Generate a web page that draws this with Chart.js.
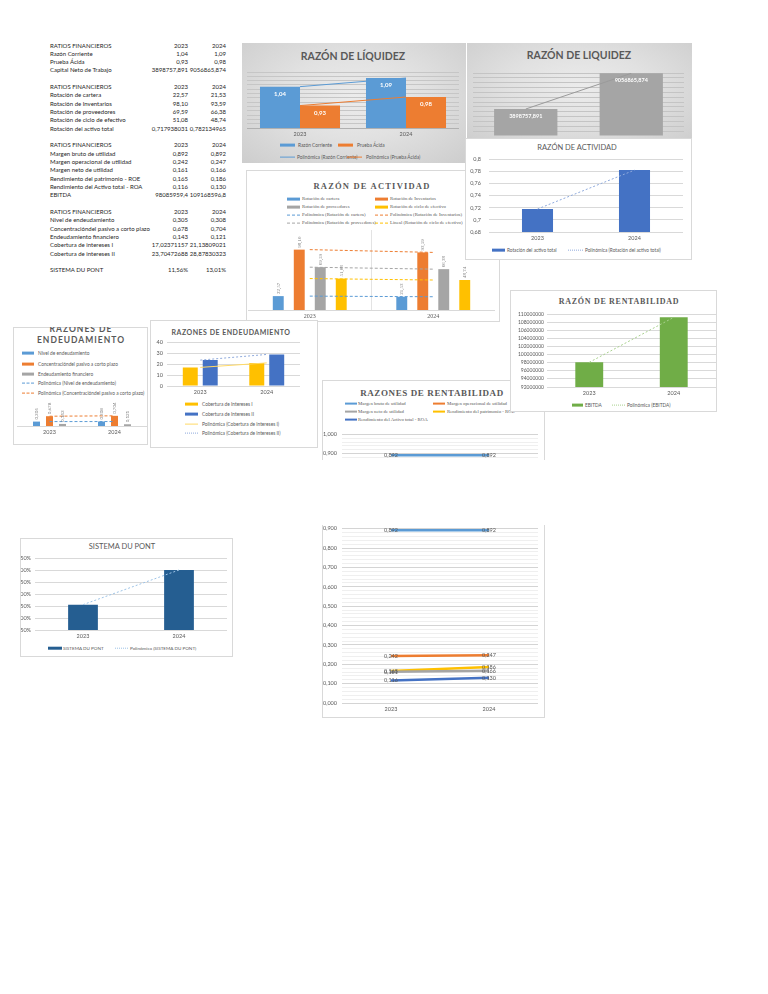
<!DOCTYPE html>
<html lang="es">
<head>
<meta charset="UTF-8">
<meta name="viewport" content="width=device-width, initial-scale=1.0">
<title>Ratios financieros 2023 - 2024</title>
<script src="https://cdn.jsdelivr.net/npm/chart.js"></script>
<style>
  html, body { margin: 0; padding: 0; background: #fff; }
  #page { position: relative; width: 768px; height: 994px; overflow: hidden; font-family: Lato, "Open Sans", sans-serif; color: #595959; }
  .box { position: absolute; background: #fff; overflow: hidden; box-shadow: inset 0 0 0 1px #d9d9d9; }
  .grey { background: radial-gradient(ellipse at 50% 45%, #ececec 0%, #e1e1e1 45%, #cdcdcd 100%); box-shadow: none; }
  .ttl { position: absolute; white-space: nowrap; transform: translate(-50%, -50%); line-height: 1; }
  .lg { position: absolute; white-space: nowrap; display: flex; align-items: center; transform: translateY(-50%); line-height: 1; }
  .lg i { display: inline-block; flex: none; }
  canvas { position: absolute; }
  .row { position: absolute; height: 8.32px; line-height: 8.32px; font-size: 6px; color: #262626; white-space: nowrap; }
</style>
</head>
<body>
<div id="page"></div>
<script>
// ---- data read from the sheet ----
const years = ['2023', '2024'];
const razonCorriente = [1.04, 1.09];
const pruebaAcida = [0.93, 0.98];
const capitalNeto = [3898757.891, 9056865.874];
const rotCartera = [22.57, 21.53];
const rotInventarios = [98.10, 93.59];
const rotProveedores = [69.59, 66.38];
const rotCiclo = [51.08, 48.74];
const rotActivo = [0.717938031, 0.782134965];
const margenBruto = [0.892, 0.892];
const margenOperacional = [0.242, 0.247];
const margenNeto = [0.161, 0.166];
const roe = [0.165, 0.186];
const roa = [0.116, 0.130];
const ebitda = [98085959.4, 109168596.8];
const nivelEnd = [0.305, 0.308];
const concentracion = [0.678, 0.704];
const endFinanciero = [0.143, 0.121];
const coberturaI = [17.02371157, 21.13809021];
const coberturaII = [23.70472688, 28.87830323];
const duPont = [0.1156, 0.1301];

const C_BLUE = '#5b9bd5', C_ORANGE = '#ed7d31', C_GREY = '#a5a5a5', C_YELLOW = '#ffc000';
const C_DBLUE = '#4472c4', C_GREEN = '#70ad47', C_NAVY = '#255e91';
const SERIF = '"Liberation Serif", "DejaVu Serif", serif';

Chart.defaults.font.family = 'Lato, "Open Sans", sans-serif';
Chart.defaults.color = '#595959';

const f = (v, d) => v.toFixed(d).replace('.', ',');
const pct = v => (v * 100).toFixed(2).replace('.', ',') + '%';
const pair = (arr, d) => [f(arr[0], d), f(arr[1], d)];

const page = document.getElementById('page');

// ---- little DOM helpers ----
function box(x, y, w, h, cls) {
  const d = document.createElement('div');
  d.className = 'box ' + (cls || '');
  Object.assign(d.style, { left: x + 'px', top: y + 'px', width: w + 'px', height: h + 'px' });
  d._x = x; d._y = y;
  page.appendChild(d);
  return d;
}

function title(b, cx, cy, str, css) {
  const s = document.createElement('div');
  s.className = 'ttl';
  s.textContent = str;
  s.style.cssText += css;
  s.style.left = (cx - b._x) + 'px';
  s.style.top = (cy - b._y) + 'px';
  b.appendChild(s);
}

function leg(b, mx, mw, tx, cy, kind, color, label, css) {
  const d = document.createElement('div');
  d.className = 'lg';
  d.style.cssText += css;
  d.style.left = (mx - b._x) + 'px';
  d.style.top = (cy - b._y) + 'px';
  const m = document.createElement('i');
  m.style.width = mw + 'px';
  m.style.marginRight = (tx - mx - mw) + 'px';
  if (kind === 'box') { m.style.height = '3px'; m.style.background = color; }
  else {
    const st = { line: '1px solid ', thick: '2px solid ', dash: '1px dashed ', dot: '1px dotted ' }[kind];
    m.style.height = '0'; m.style.borderTop = st + color;
  }
  const t = document.createElement('span');
  t.textContent = label;
  d.appendChild(m); d.appendChild(t);
  b.appendChild(d);
}

function cv(b, x, y, w, h) {
  const c = document.createElement('canvas');
  c.width = w; c.height = h;
  Object.assign(c.style, { left: (x - b._x) + 'px', top: (y - b._y) + 'px', width: w + 'px', height: h + 'px' });
  b.appendChild(c);
  return c;
}

// value labels drawn on top of the bars / points
function valueLabels(items) {
  return {
    id: 'valueLabels',
    afterDatasetsDraw(chart) {
      const ctx = chart.ctx;
      items.forEach(it => {
        const meta = chart.getDatasetMeta(it.ds);
        const vals = chart.data.datasets[it.ds].data;
        meta.data.forEach((pt, i) => {
          const txt = it.fmt(vals[i]);
          ctx.save();
          ctx.font = it.font;
          ctx.fillStyle = it.color;
          if (it.mode === 'inside') {
            ctx.textAlign = 'center'; ctx.textBaseline = 'top';
            ctx.fillText(txt, pt.x, pt.y + it.off);
          } else if (it.mode === 'up') {
            ctx.translate(pt.x, pt.y - it.off);
            ctx.rotate(-Math.PI / 2);
            ctx.textAlign = 'left'; ctx.textBaseline = 'middle';
            ctx.fillText(txt, 0, 0);
          } else {
            ctx.textAlign = 'center'; ctx.textBaseline = 'middle';
            ctx.fillText(txt, pt.x, pt.y);
          }
          ctx.restore();
        });
      });
    }
  };
}

function bar(data, color, cat, barP) {
  return { data: data, backgroundColor: color, categoryPercentage: cat, barPercentage: barP, order: 2 };
}
function trend(data, color, dash, width) {
  return { type: 'line', data: data, borderColor: color, borderWidth: width || 1, borderDash: dash || [], pointRadius: 0, order: 1 };
}
function baseOptions(scales, padding) {
  return {
    responsive: false, animation: false,
    layout: { padding: padding || 0 },
    plugins: { legend: { display: false }, tooltip: { enabled: false } },
    scales: scales
  };
}
function xCat(size, extra) {
  return Object.assign({
    grid: { display: false, drawTicks: false },
    border: { display: false },
    ticks: { font: { size: size }, color: '#595959', padding: 3, autoSkip: false, maxRotation: 0 },
    afterFit: s => { s.height = 12; }
  }, extra || {});
}

// ---- RAZÓN DE LÍQUIDEZ (corriente / ácida) ----
const bA = box(242, 43, 224, 120, 'grey');
title(bA, 353, 56, 'RAZÓN DE LÍQUIDEZ', 'font-weight:bold;font-size:10.5px;');
const legA = 'font-size:4.8px;';
leg(bA, 280, 15, 298, 145, 'box', C_BLUE, 'Razón Corriente', legA);
leg(bA, 338, 15, 357, 145, 'box', C_ORANGE, 'Prueba Ácida', legA);
leg(bA, 280, 15, 297, 157, 'line', C_BLUE, 'Polinómica (Razón Corriente)', legA);
leg(bA, 347, 15, 366, 157, 'line', C_ORANGE, 'Polinómica (Prueba Ácida)', legA);
new Chart(cv(bA, 247, 72, 212, 68), {
  type: 'bar',
  data: { labels: years, datasets: [
    bar(razonCorriente, C_BLUE, 0.755, 1),
    bar(pruebaAcida, C_ORANGE, 0.755, 1),
    trend(razonCorriente, C_BLUE),
    trend(pruebaAcida, C_ORANGE)
  ]},
  options: baseOptions({
    x: xCat(5.5, { border: { display: true, color: '#b0b0b0' } }),
    y: { min: 0.8, max: 1.125, ticks: { display: false, stepSize: 0.025 },
         grid: { color: '#c6c6c6', drawTicks: false }, border: { display: false },
         afterFit: s => { s.width = 0; } }
  }),
  plugins: [valueLabels([
    { ds: 0, mode: 'inside', off: 4, font: 'bold 6px Lato', color: '#fff', fmt: v => f(v, 2) },
    { ds: 1, mode: 'inside', off: 4, font: 'bold 6px Lato', color: '#fff', fmt: v => f(v, 2) }
  ])]
});

// ---- RAZÓN DE LIQUIDEZ (capital neto de trabajo) ----
const bB = box(467, 43, 225, 100, 'grey');
title(bB, 579, 55, 'RAZÓN DE LIQUIDEZ', 'font-weight:bold;font-size:10.5px;');
new Chart(cv(bB, 473, 73, 211, 63), {
  type: 'bar',
  data: { labels: years, datasets: [
    bar(capitalNeto, C_GREY, 0.6, 1),
    trend(capitalNeto, '#9a9a9a')
  ]},
  options: baseOptions({
    x: { display: false },
    y: { min: 0, max: 9100000, ticks: { display: false, stepSize: 700000 },
         grid: { color: '#c4c4c4', drawTicks: false }, border: { display: false },
         afterFit: s => { s.width = 0; } }
  }),
  plugins: [valueLabels([
    { ds: 0, mode: 'inside', off: 4, font: 'bold 5.5px Lato', color: '#fff', fmt: v => f(v, 3) }
  ])]
});

// ---- RAZÓN DE ACTIVIDAD (rotaciones) ----
const bD = box(246, 170, 254, 152);
title(bD, 372, 186, 'RAZÓN DE ACTIVIDAD', 'font-family:' + SERIF + ';font-weight:bold;font-size:8.5px;letter-spacing:1.2px;');
const legD = 'font-family:' + SERIF + ';font-size:4.8px;';
leg(bD, 287, 13, 302, 199, 'box', C_BLUE, 'Rotación de cartera', legD);
leg(bD, 375, 13, 390, 199, 'box', C_ORANGE, 'Rotación de Inventarios', legD);
leg(bD, 287, 13, 302, 207, 'box', C_GREY, 'Rotación de proveedores', legD);
leg(bD, 375, 13, 390, 207, 'box', C_YELLOW, 'Rotación de ciclo de efectivo', legD);
leg(bD, 287, 13, 302, 215, 'dash', C_BLUE, 'Polinómica (Rotación de cartera)', legD);
leg(bD, 375, 13, 390, 215, 'dash', C_ORANGE, 'Polinómica (Rotación de Inventarios)', legD);
leg(bD, 287, 13, 302, 223, 'dash', C_GREY, 'Polinómica (Rotación de proveedores)', legD);
leg(bD, 375, 13, 390, 223, 'dash', C_YELLOW, 'Lineal (Rotación de ciclo de efectivo)', legD);
const lblD = { mode: 'up', off: 2, font: '5px "Liberation Serif"', color: '#7f7f7f', fmt: v => f(v, 2) };
new Chart(cv(bD, 248, 230, 247, 92), {
  type: 'bar',
  data: { labels: years, datasets: [
    bar(rotCartera, C_BLUE, 0.68, 0.52),
    bar(rotInventarios, C_ORANGE, 0.68, 0.52),
    bar(rotProveedores, C_GREY, 0.68, 0.52),
    bar(rotCiclo, C_YELLOW, 0.68, 0.52),
    trend(rotCartera, C_BLUE, [3, 2]),
    trend(rotInventarios, C_ORANGE, [3, 2]),
    trend(rotProveedores, C_GREY, [3, 2]),
    trend(rotCiclo, C_YELLOW, [3, 2])
  ]},
  options: baseOptions({
    x: xCat(6, {
      grid: { display: true, offset: true, drawTicks: false, color: c => c.index === 1 ? '#e3e3e3' : 'rgba(0,0,0,0)' },
      border: { display: true, color: '#d9d9d9' },
      ticks: { font: { size: 6, family: SERIF }, color: '#595959', padding: 3, autoSkip: false, maxRotation: 0 }
    }),
    y: { display: false, min: 0, max: 130 }
  }),
  plugins: [valueLabels([0, 1, 2, 3].map(i => Object.assign({ ds: i }, lblD)))]
});

// ---- RAZÓN DE ACTIVIDAD (activo total) ----
// note: a vertical axis adds tick padding + half a label above the plot, canvases start that much higher
const bC = box(465, 138, 227, 122);
title(bC, 577, 148, 'RAZÓN DE ACTIVIDAD', 'font-size:7.5px;');
leg(bC, 492, 13, 507, 250, 'box', C_DBLUE, 'Rotación del activo total', 'font-size:4.7px;');
leg(bC, 568, 15, 585, 250, 'dot', '#8faadc', 'Polinómica (Rotación del activo total)', 'font-size:4.7px;');
new Chart(cv(bC, 466, 148, 217, 96), {
  type: 'bar',
  data: { labels: years, datasets: [
    bar(rotActivo, C_DBLUE, 0.32, 1),
    trend(rotActivo, '#8faadc', [2, 2])
  ]},
  options: baseOptions({
    x: xCat(5.5),
    y: { min: 0.68, max: 0.8,
         ticks: { stepSize: 0.02, autoSkip: false, padding: 8, font: { size: 5.5 }, color: '#595959',
                  callback: v => String(+v.toFixed(2)).replace('.', ',') },
         grid: { color: '#d9d9d9', drawTicks: false }, border: { display: false },
         afterFit: s => { s.width = 23; } }
  })
});

// ---- RAZONES DE ENDEUDAMIENTO (niveles) ----
const bE = box(13, 327, 135, 118);
title(bE, 81, 328.5, 'RAZONES DE', 'font-weight:bold;font-size:8.5px;letter-spacing:1px;');
title(bE, 81, 340, 'ENDEUDAMIENTO', 'font-weight:bold;font-size:8.5px;letter-spacing:1px;');
const legE = 'font-size:4.8px;';
leg(bE, 22, 12, 38, 353, 'box', C_BLUE, 'Nivel de endeudamiento', legE);
leg(bE, 22, 12, 38, 364, 'box', C_ORANGE, 'Concentracióndel pasivo a corto plazo', legE);
leg(bE, 22, 12, 38, 374, 'box', C_GREY, 'Endeudamiento financiero', legE);
leg(bE, 22, 12, 38, 383, 'dash', C_BLUE, 'Polinómica (Nivel de endeudamiento)', legE);
leg(bE, 22, 12, 38, 393, 'dash', C_ORANGE, 'Polinómica (Concentracióndel pasivo a corto plazo)', legE);
const lblE = { mode: 'up', off: 2, font: '4.5px Lato', color: '#7f7f7f', fmt: v => f(v, 3) };
new Chart(cv(bE, 13, 390, 135, 48), {
  type: 'bar',
  data: { labels: years, datasets: [
    bar(nivelEnd, C_BLUE, 0.6, 0.54),
    bar(concentracion, C_ORANGE, 0.6, 0.54),
    bar(endFinanciero, C_GREY, 0.6, 0.54),
    trend(nivelEnd, C_BLUE, [3, 2]),
    trend(concentracion, C_ORANGE, [3, 2])
  ]},
  options: baseOptions({
    x: xCat(5.5, { border: { display: true, color: '#d9d9d9' } }),
    y: { display: false, min: 0, max: 1.8 }
  }, { top: 10, left: 4, right: 1 }),
  plugins: [valueLabels([0, 1, 2].map(i => Object.assign({ ds: i }, lblE)))]
});

// ---- RAZONES DE ENDEUDAMIENTO (coberturas) ----
const bF = box(150, 320, 168, 128);
title(bF, 231, 332, 'RAZONES DE ENDEUDAMIENTO', 'font-weight:bold;font-size:7px;letter-spacing:0.5px;');
const legF = 'font-size:4.8px;';
leg(bF, 185, 13, 202, 404, 'box', C_YELLOW, 'Cobertura de Intereses I', legF);
leg(bF, 185, 13, 202, 414, 'box', C_DBLUE, 'Cobertura de Intereses II', legF);
leg(bF, 185, 13, 202, 424, 'line', '#ffd966', 'Polinómica (Cobertura de intereses I)', legF);
leg(bF, 185, 13, 202, 433, 'dot', '#8faadc', 'Polinómica (Cobertura de intereses II)', legF);
new Chart(cv(bF, 150, 335, 150, 63), {
  type: 'bar',
  data: { labels: years, datasets: [
    bar(coberturaI, C_YELLOW, 0.6, 0.75),
    bar(coberturaII, C_DBLUE, 0.6, 0.75),
    trend(coberturaI, '#ffd966'),
    trend(coberturaII, '#8faadc', [2, 2])
  ]},
  options: baseOptions({
    x: xCat(5.5),
    y: { min: 0, max: 40,
         ticks: { stepSize: 10, autoSkip: false, padding: 4, font: { size: 5.5 }, color: '#595959' },
         grid: { color: '#d9d9d9', drawTicks: false }, border: { display: false },
         afterFit: s => { s.width = 17; } }
  })
});

// ---- RAZONES DE RENTABILIDAD (margenes), split across the page break ----
function buildH(b, shift) {
  title(b, 432, 393 + shift, 'RAZONES DE RENTABILIDAD', 'font-family:' + SERIF + ';font-weight:bold;font-size:9px;letter-spacing:0.6px;');
  const legH = 'font-family:' + SERIF + ';font-size:4.8px;';
  leg(b, 345, 12, 358, 404 + shift, 'thick', C_BLUE, 'Margen bruto de utilidad', legH);
  leg(b, 433, 12, 447, 404 + shift, 'thick', C_ORANGE, 'Margen operacional de utilidad', legH);
  leg(b, 345, 12, 358, 412 + shift, 'thick', C_GREY, 'Margen neto de utilidad', legH);
  leg(b, 433, 12, 447, 412 + shift, 'thick', C_YELLOW, 'Rendimiento del patrimonio - ROE', legH);
  leg(b, 345, 12, 358, 420 + shift, 'thick', C_DBLUE, 'Rendimiento del Activo total - ROA', legH);
  const line = (d, c) => ({ data: d, borderColor: c, borderWidth: 2.5, pointRadius: 0 });
  const lbl = { mode: 'center', font: '5.5px Lato', color: '#595959', fmt: v => f(v, 3) };
  new Chart(cv(b, 323, 426 + shift, 215, 214), {
    type: 'line',
    data: { labels: years, datasets: [
      line(margenBruto, C_BLUE),
      line(margenOperacional, C_ORANGE),
      line(margenNeto, C_GREY),
      line(roe, C_YELLOW),
      line(roa, C_DBLUE)
    ]},
    options: baseOptions({
      x: { offset: true, grid: { display: false, drawTicks: false }, border: { display: false },
           ticks: { font: { size: 5.5 }, color: '#595959', padding: 3, autoSkip: false, maxRotation: 0 },
           afterFit: s => { s.height = 12; } },
      y: { min: 0, max: 1,
           ticks: { stepSize: 0.02, autoSkip: false, padding: 5, font: { size: 5.5 }, color: '#595959',
                    callback: v => Math.round(v * 100) % 10 === 0 ? v.toFixed(3).replace('.', ',') : '' },
           grid: { drawTicks: false, color: c => Math.round(c.tick.value * 100) % 10 === 0 ? '#d4d4d4' : '#efefef' },
           border: { display: false },
           afterFit: s => { s.width = 19; } }
    }),
    plugins: [valueLabels([0, 1, 2, 3, 4].map(i => Object.assign({ ds: i }, lbl)))]
  });
}
const bH1 = box(322, 380, 223, 80);
bH1.style.boxShadow = 'inset 1px 0 0 #d9d9d9, inset -1px 0 0 #d9d9d9, inset 0 1px 0 #d9d9d9';
buildH(bH1, 0);
const bH2 = box(322, 525, 223, 193);
bH2.style.boxShadow = 'inset 1px 0 0 #d9d9d9, inset -1px 0 0 #d9d9d9, inset 0 -1px 0 #d9d9d9';
buildH(bH2, 75);

// ---- RAZÓN DE RENTABILIDAD (EBITDA) ----
const bG = box(510, 290, 207, 122);
title(bG, 619, 302, 'RAZÓN DE RENTABILIDAD', 'font-family:' + SERIF + ';font-weight:bold;font-size:8px;letter-spacing:0.7px;');
leg(bG, 572, 11, 585, 405, 'box', C_GREEN, 'EBITDA', 'font-size:4.8px;');
leg(bG, 612, 13, 627, 405, 'dot', '#a9d18e', 'Polinómica (EBITDA)', 'font-size:4.8px;');
new Chart(cv(bG, 511, 308, 205, 91), {
  type: 'bar',
  data: { labels: years, datasets: [
    bar(ebitda, C_GREEN, 0.33, 1),
    trend(ebitda, '#a9d18e', [2, 2])
  ]},
  options: baseOptions({
    x: xCat(5.5),
    y: { min: 92000000, max: 110000000,
         ticks: { stepSize: 2000000, autoSkip: false, padding: 3, font: { size: 5 }, color: '#595959',
                  callback: v => String(v) },
         grid: { color: '#d9d9d9', drawTicks: false }, border: { display: false },
         afterFit: s => { s.width = 36; } }
  })
});

// ---- SISTEMA DU PONT ----
const bI = box(20, 538, 213, 119);
title(bI, 122, 547, 'SISTEMA DU PONT', 'font-size:7.5px;');
leg(bI, 48, 14, 63, 648, 'box', C_NAVY, 'SISTEMA DU PONT', 'font-size:4.6px;');
leg(bI, 115, 13, 130, 648, 'dot', '#9dc3e6', 'Polinómica (SISTEMA DU PONT)', 'font-size:4.6px;');
new Chart(cv(bI, 21, 551, 206, 91), {
  type: 'bar',
  data: { labels: years, datasets: [
    bar(duPont, C_NAVY, 0.31, 1),
    trend(duPont, '#9dc3e6', [2, 2])
  ]},
  options: baseOptions({
    x: xCat(5.5),
    y: { min: 0.105, max: 0.135,
         ticks: { stepSize: 0.005, autoSkip: false, padding: 4, font: { size: 5.5 }, color: '#595959',
                  callback: v => pct(v) },
         grid: { color: '#d9d9d9', drawTicks: false }, border: { display: false },
         afterFit: s => { s.width = 14; } }
  })
});

// ---- ratio table (sheet cells) ----
const tableRows = [
  ['RATIOS FINANCIEROS', years[0], years[1]],
  ['Razón Corriente', ...pair(razonCorriente, 2)],
  ['Prueba Ácida', ...pair(pruebaAcida, 2)],
  ['Capital Neto de Trabajo', ...pair(capitalNeto, 3)],
  null,
  ['RATIOS FINANCIEROS', years[0], years[1]],
  ['Rotación de cartera', ...pair(rotCartera, 2)],
  ['Rotación de Inventarios', ...pair(rotInventarios, 2)],
  ['Rotación de proveedores', ...pair(rotProveedores, 2)],
  ['Rotación de ciclo de efectivo', ...pair(rotCiclo, 2)],
  ['Rotación del activo total', ...pair(rotActivo, 9)],
  null,
  ['RATIOS FINANCIEROS', years[0], years[1]],
  ['Margen bruto de utilidad', ...pair(margenBruto, 3)],
  ['Margen operacional de utilidad', ...pair(margenOperacional, 3)],
  ['Margen neto de utilidad', ...pair(margenNeto, 3)],
  ['Rendimiento del patrimonio - ROE', ...pair(roe, 3)],
  ['Rendimiento del Activo total - ROA', ...pair(roa, 3)],
  ['EBITDA', ...pair(ebitda, 1)],
  null,
  ['RATIOS FINANCIEROS', years[0], years[1]],
  ['Nivel de endeudamiento', ...pair(nivelEnd, 3)],
  ['Concentracióndel pasivo a corto plazo', ...pair(concentracion, 3)],
  ['Endeudamiento financiero', ...pair(endFinanciero, 3)],
  ['Cobertura de intereses I', ...pair(coberturaI, 8)],
  ['Cobertura de intereses II', ...pair(coberturaII, 8)],
  null,
  ['SISTEMA DU PONT', pct(duPont[0]), pct(duPont[1])]
];
tableRows.forEach((r, i) => {
  if (!r) return;
  const top = 41.5 + 8.32 * i;
  [[50, 90, 'left'], [130, 58, 'right'], [180, 46, 'right']].forEach((c, j) => {
    const d = document.createElement('div');
    d.className = 'row';
    d.textContent = r[j];
    Object.assign(d.style, { left: c[0] + 'px', top: top + 'px', width: c[1] + 'px', textAlign: c[2] });
    if (j === 0) d.style.width = 'auto';
    page.appendChild(d);
  });
});
</script>
</body>
</html>
